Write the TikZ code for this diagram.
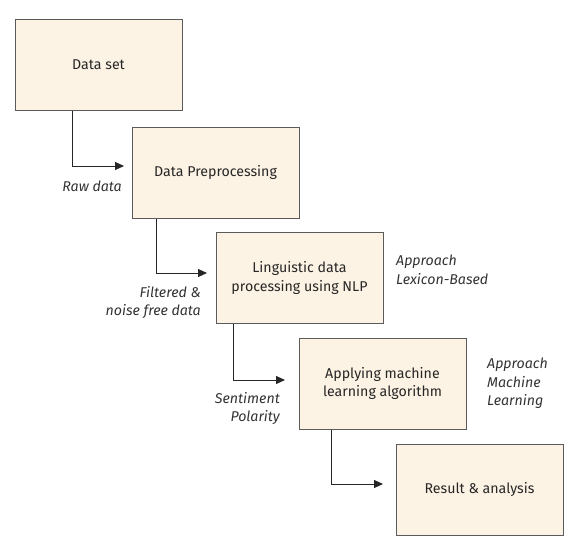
\documentclass[tikz,border=0pt]{standalone}
\usepackage{fontspec}
\setmainfont{Fira Sans}
\usetikzlibrary{arrows.meta}
\definecolor{boxfill}{HTML}{FDF3E4}
\definecolor{boxline}{HTML}{5A5A5A}
\tikzset{
  stepbox/.style={draw=boxline, fill=boxfill, line width=1pt, minimum width=167pt, minimum height=91pt, inner sep=0pt, align=center, font=\fontsize{14.2}{18.5}\selectfont, text=black!85},
  conn/.style={draw=black!85, line width=1pt, -{Triangle[length=9pt,width=8pt]}},
  lbl/.style={font=\fontsize{14.2}{18.5}\selectfont\itshape, text=black!80, inner sep=0pt}
}
\begin{document}
\begin{tikzpicture}[x=1pt,y=-1pt]
\useasboundingbox (0,0) rectangle (578,546);
\node[stepbox] (b1) at (98.5,64.5) {Data set};
\node[stepbox] (b2) at (215.5,172.5) {Data Preprocessing};
\node[stepbox] (b3) at (299.5,278) {Linguistic data\\processing using NLP};
\node[stepbox] (b4) at (382.5,383.5) {Applying machine\\learning algorithm};
\node[stepbox] (b5) at (479.5,489.5) {Result \& analysis};
\coordinate (t1) at (124,166);
\coordinate (t2) at (207,273);
\coordinate (t3) at (285,380);
\coordinate (t4) at (383,484);
\draw[conn] ([xshift=58]b1.south west) |- (t1);
\draw[conn] ([xshift=25]b2.south west) |- (t2);
\draw[conn] ([xshift=18]b3.south west) |- (t3);
\draw[conn] ([xshift=33]b4.south west) |- (t4);
\node[lbl, anchor=east] (l1) at (122,186) {Raw data};
\node[lbl, anchor=east, align=right] (l2) at (201,302.5) {Filtered \&\\noise free data};
\node[lbl, anchor=east, align=right] (l3) at (280,408.5) {Sentiment\\Polarity};
\node[lbl, anchor=west, align=left] (l4) at (396,270) {Approach\\Lexicon-Based};
\node[lbl, anchor=west, align=left] (l5) at (487,383.5) {Approach\\Machine\\Learning};
\end{tikzpicture}
\end{document}
